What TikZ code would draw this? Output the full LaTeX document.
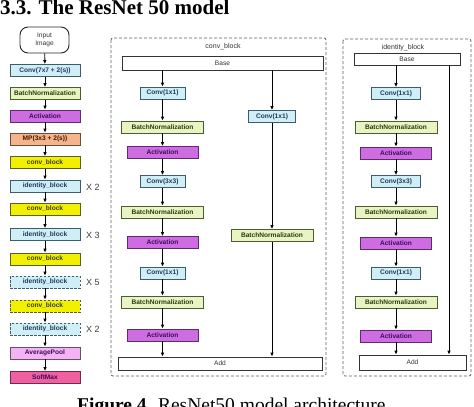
\documentclass[tikz,border=0pt]{standalone}
\usepackage{fontspec}
\setmainfont{Liberation Serif}
\setsansfont{Liberation Sans}
\usetikzlibrary{arrows.meta,calc}
\definecolor{cvfill}{HTML}{CFEEF6}
\definecolor{cvdraw}{HTML}{3C5C6C}
\definecolor{cvtext}{HTML}{1C3C5C}
\definecolor{bnfill}{HTML}{E8F4C4}
\definecolor{bndraw}{HTML}{4C5C2C}
\definecolor{bntext}{HTML}{2C3C0C}
\definecolor{acfill}{HTML}{CE6CE2}
\definecolor{acdraw}{HTML}{5C2C6C}
\definecolor{actext}{HTML}{3C0C5C}
\definecolor{mpfill}{HTML}{F6B48A}
\definecolor{mpdraw}{HTML}{6C4C3C}
\definecolor{mptext}{HTML}{3C1C0C}
\definecolor{yefill}{HTML}{F0F000}
\definecolor{yedraw}{HTML}{5C5C2C}
\definecolor{yetext}{HTML}{3C3C0C}
\definecolor{apfill}{HTML}{F4B4F4}
\definecolor{apdraw}{HTML}{6C4C6C}
\definecolor{smfill}{HTML}{F060A0}
\definecolor{smdraw}{HTML}{6C2C4C}
\definecolor{paneldraw}{HTML}{606060}
\begin{document}
\begin{tikzpicture}[x=1pt,y=-1pt,
  blk/.style={draw, line width=0.8pt, minimum height=12pt, inner sep=0pt,
    font=\sffamily\bfseries\fontsize{6.6}{7.5}\selectfont},
  cv/.style={blk, fill=cvfill, draw=cvdraw, text=cvtext, minimum width=#1},
  bn/.style={blk, fill=bnfill, draw=bndraw, text=bntext, minimum width=#1},
  ac/.style={blk, fill=acfill, draw=acdraw, text=actext, minimum width=#1},
  mpb/.style={blk, fill=mpfill, draw=mpdraw, text=mptext, minimum width=#1},
  ye/.style={blk, fill=yefill, draw=yedraw, text=yetext, minimum width=#1},
  apb/.style={blk, fill=apfill, draw=apdraw, text=actext, minimum width=#1},
  smb/.style={blk, fill=smfill, draw=smdraw, text=actext, minimum width=#1},
  wb/.style={draw=black!80, line width=0.8pt, fill=white, inner sep=0pt,
    font=\sffamily\fontsize{6.6}{7.5}\selectfont, text=black!80, minimum width=#1},
  dsh/.style={dash pattern=on 2.5pt off 1.5pt},
  arr/.style={line width=0.9pt, -{Latex[length=4pt,width=3.6pt]}},
  panel/.style={draw=paneldraw, line width=0.8pt, dash pattern=on 3pt off 2pt, rounded corners=2pt},
  rep/.style={font=\sffamily\fontsize{9}{10}\selectfont, text=black!75, inner sep=0pt},
  ptitle/.style={font=\sffamily\fontsize{7}{8}\selectfont, text=black!80, inner sep=0pt}
]
\clip (0,0) rectangle (474,407);
\fill[white] (0,0) rectangle (474,407);

% title and caption
\node[anchor=base west, inner sep=0pt, font=\rmfamily\bfseries\fontsize{21}{24}\selectfont] (title) at (0,14) {3.3. The ResNet 50 model};
\node[anchor=base west, inner sep=0pt, font=\rmfamily\fontsize{19.5}{22}\selectfont] (cap) at (77,411) {\textbf{Figure 4.} ResNet50 model architecture};

% ---------- left column ----------
\node[draw=black!85, line width=0.9pt, rounded corners=8pt, minimum width=49pt, minimum height=26pt, inner sep=0pt, align=center, font=\sffamily\fontsize{6.6}{8.5}\selectfont, text=black!80] (in) at (44.5,40) {Input\\Image};
\node[cv=70pt] (c7) at (45,70.5) {Conv(7x7 + 2(s))};
\node[bn=70pt] (bn0) at (45,93.5) {BatchNormalization};
\node[ac=70pt] (ac0) at (45,116) {Activation};
\node[mpb=70pt] (mp) at (45,139) {MP(3x3 + 2(s))};
\node[ye=70pt] (cb1) at (45,162.5) {conv\_block};
\node[cv=70pt] (ib1) at (45,186) {identity\_block};
\node[ye=70pt] (cb2) at (45,209) {conv\_block};
\node[cv=70pt] (ib2) at (45,234.5) {identity\_block};
\node[ye=70pt] (cb3) at (45,259) {conv\_block};
\node[cv=70pt, dsh] (ib3) at (45,282) {identity\_block};
\node[ye=70pt, dsh] (cb4) at (45,306) {conv\_block};
\node[cv=70pt, dsh] (ib4) at (45,329) {identity\_block};
\node[apb=70pt] (ap) at (45,353) {AveragePool};
\node[smb=70pt] (sm) at (45,377.5) {SoftMax};

\node[rep] (x1) at (93,187) {X 2};
\node[rep] (x2) at (93,235) {X 3};
\node[rep] (x3) at (93,282.5) {X 5};
\node[rep] (x4) at (93,329.5) {X 2};

\foreach \a/\b in {in/c7,c7/bn0,bn0/ac0,ac0/mp,mp/cb1,cb1/ib1,ib1/cb2,cb2/ib2,ib2/cb3,cb3/ib3,ib3/cb4,cb4/ib4,ib4/ap,ap/sm}
  \draw[arr] (\a) -- (\b);

% ---------- conv_block panel ----------
\draw[panel] (111,38) rectangle (326,376);
\node[ptitle] (ct) at (223,47) {conv\_block};
\node[wb=201pt, minimum height=14pt] (cbase) at (222.5,63) {Base};
\node[cv=45pt] (cl1) at (162.5,93) {Conv(1x1)};
\node[bn=82pt] (cl2) at (162.5,127) {BatchNormalization};
\node[ac=71pt] (cl3) at (162.5,152.5) {Activation};
\node[cv=45pt] (cl4) at (162.5,181.5) {Conv(3x3)};
\node[bn=82pt] (cl5) at (162.5,212) {BatchNormalization};
\node[ac=71pt] (cl6) at (162.5,242.5) {Activation};
\node[cv=45pt] (cl7) at (162.5,273) {Conv(1x1)};
\node[bn=82pt] (cl8) at (162.5,302) {BatchNormalization};
\node[ac=71pt] (cl9) at (162.5,335) {Activation};
\node[cv=47pt] (cr1) at (272,116.5) {Conv(1x1)};
\node[bn=82pt] (cr2) at (272,235.5) {BatchNormalization};
\node[wb=204pt, minimum height=13pt] (cadd) at (220,363.5) {Add};

\draw[arr] (cl1 |- cbase.south) -- (cl1.north);
\foreach \a/\b in {cl1/cl2,cl2/cl3,cl3/cl4,cl4/cl5,cl5/cl6,cl6/cl7,cl7/cl8,cl8/cl9}
  \draw[arr] (\a) -- (\b);
\draw[arr] (cl9.south) -- (cl9.south |- cadd.north);
\draw[arr] (cr1 |- cbase.south) -- (cr1.north);
\draw[arr] (cr1) -- (cr2);
\draw[arr] (cr2.south) -- (cr2.south |- cadd.north);

% ---------- identity_block panel ----------
\draw[panel] (343,39) rectangle (471,376);
\node[ptitle] (it) at (403,48) {identity\_block};
\node[wb=106pt, minimum height=12pt] (ibase) at (407,59) {Base};
\node[cv=49pt] (il1) at (396,93.5) {Conv(1x1)};
\node[bn=82pt] (il2) at (396,127) {BatchNormalization};
\node[ac=71pt] (il3) at (396,153) {Activation};
\node[cv=49pt] (il4) at (396,181.5) {Conv(3x3)};
\node[bn=82pt] (il5) at (396,212) {BatchNormalization};
\node[ac=71pt] (il6) at (396,243) {Activation};
\node[cv=49pt] (il7) at (396,273) {Conv(1x1)};
\node[bn=82pt] (il8) at (396,302) {BatchNormalization};
\node[ac=71pt] (il9) at (396,336) {Activation};
\node[wb=107pt, minimum height=15pt] (iadd) at (412.5,362.5) {Add};
\coordinate (skip) at (449,0);

\draw[arr] (il1 |- ibase.south) -- (il1.north);
\foreach \a/\b in {il1/il2,il2/il3,il3/il4,il4/il5,il5/il6,il6/il7,il7/il8,il8/il9}
  \draw[arr] (\a) -- (\b);
\draw[arr] (il9.south) -- (il9.south |- iadd.north);
\draw[arr] (skip |- ibase.south) -- (skip |- iadd.north);
\end{tikzpicture}
\end{document}
